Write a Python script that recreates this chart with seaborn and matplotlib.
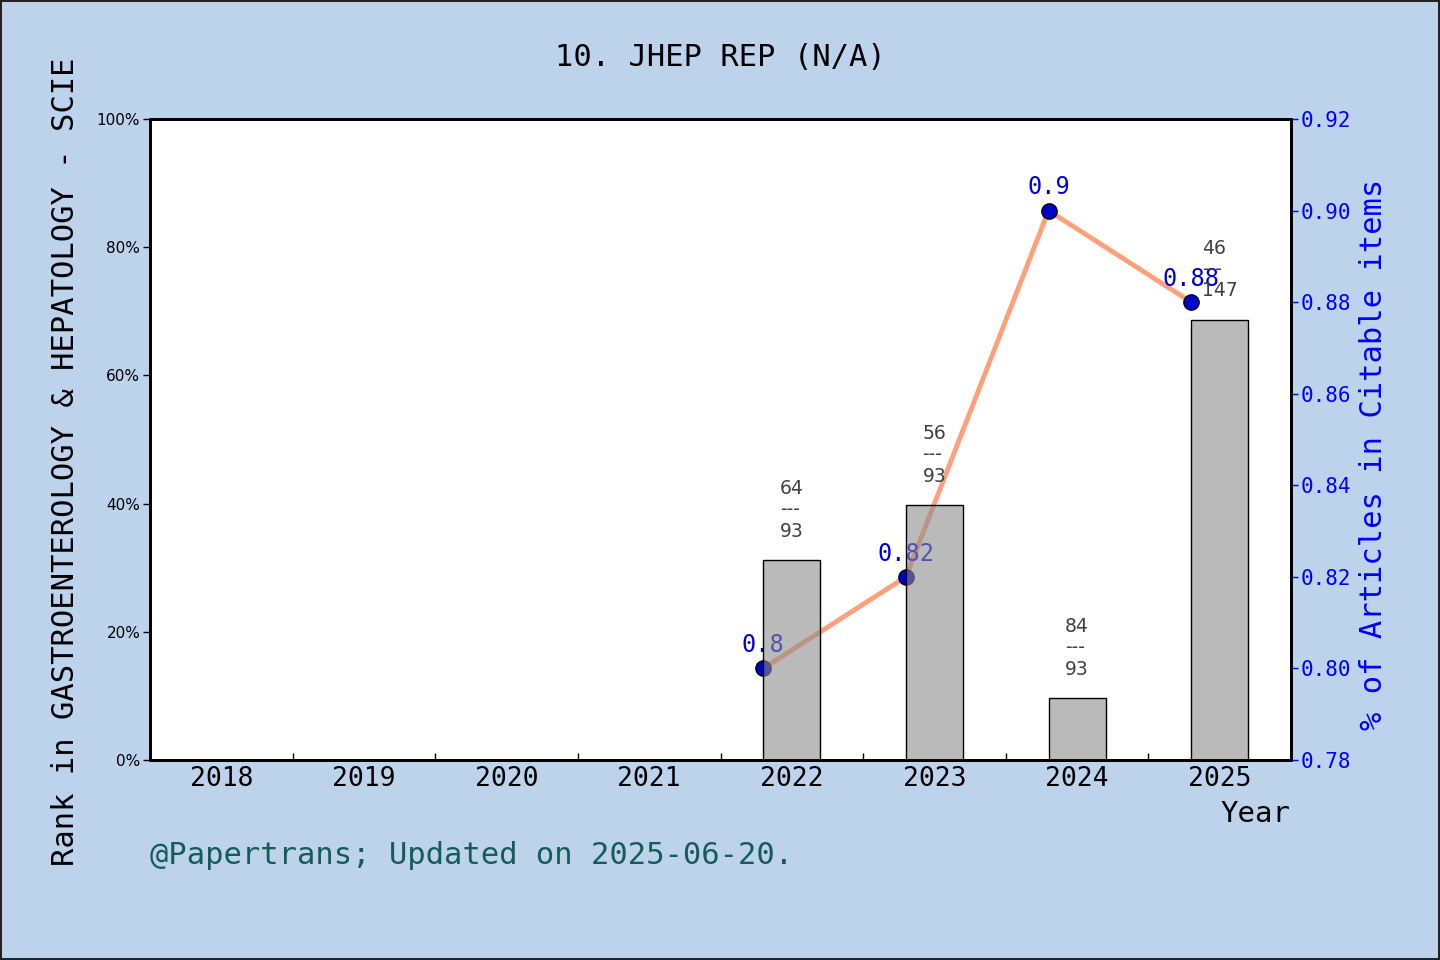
import matplotlib.pyplot as plt
import seaborn as sns
import numpy as np
import pandas as pd

# data
years = ['2018', '2019', '2020', '2021', '2022', '2023', '2024', '2025']
rank = [np.nan, np.nan, np.nan, np.nan, 64, 56, 84, 46]
total = [np.nan, np.nan, np.nan, np.nan, 93, 93, 93, 147]
line_years = ['2022', '2023', '2024', '2025']
citable = [0.80, 0.82, 0.90, 0.88]
citable_labels = ['0.8', '0.82', '0.9', '0.88']

pct = [1 - r / t for r, t in zip(rank, total)]
df = pd.DataFrame({'year': years, 'pct': pct})

bg = '#bdd3ec'
mono = 'DejaVu Sans Mono'

sns.set_style('white')
plt.rcParams['font.family'] = ['DejaVu Sans']
plt.rcParams['text.color'] = 'black'
plt.rcParams['axes.labelcolor'] = 'black'
plt.rcParams['xtick.color'] = 'black'
plt.rcParams['ytick.color'] = 'black'

fig = plt.figure(figsize=(14.4, 9.6), dpi=100, facecolor=bg,
                 edgecolor='#222222', linewidth=1.5)
ax = fig.add_axes([150/1440, 1 - 760/960, (1291-150)/1440, (760-119)/960])
ax2 = ax.twinx()

# bars on the front axes, line behind (white background on the back axes)
ax.set_zorder(ax2.get_zorder() + 1)
ax.patch.set_visible(False)
ax2.patch.set_visible(True)
ax2.patch.set_facecolor('white')

sns.barplot(data=df, x='year', y='pct', order=years, ax=ax, width=0.4,
            color=(0.55, 0.55, 0.55), edgecolor='black', linewidth=1)
for p in ax.patches:
    p.set_alpha(None)
    p.set_facecolor((0.55, 0.55, 0.55, 0.6))
    p.set_edgecolor('black')

for i, (r, t, v) in enumerate(zip(rank, total, pct)):
    if np.isnan(v):
        continue
    ax.annotate(f'{int(r)}\n---\n{int(t)}', xy=(i, v), xytext=(0, 14),
                textcoords='offset points', ha='center', va='bottom',
                multialignment='left', fontsize=13.5, color='#404040',
                linespacing=1.15)

xpos = [years.index(y) - 0.2 for y in line_years]
sns.lineplot(x=xpos, y=citable, ax=ax2, color='#ffa07a', linewidth=3.5,
             marker='o', markersize=11, markerfacecolor='#0000cd',
             markeredgecolor='black', markeredgewidth=1)
for x, y, s in zip(xpos, citable, citable_labels):
    ax2.annotate(s, xy=(x, y), xytext=(0, 8), textcoords='offset points',
                 ha='center', va='bottom', fontsize=17, color='#0000dd',
                 family=mono)

ax.set_xlim(-0.5, len(years) - 0.5)
ax2.set_xlim(-0.5, len(years) - 0.5)
ax.set_ylim(0, 1)
ax2.set_ylim(0.78, 0.92)

ax.set_yticks(np.arange(0, 1.01, 0.2))
ax.set_yticklabels([f'{int(round(v*100))}%' for v in np.arange(0, 1.01, 0.2)],
                   fontsize=11)
ax.tick_params(axis='y', direction='out', length=5, width=1, color='black',
               left=True, pad=2)

ax.set_xticks(range(len(years)))
ax.set_xticklabels(years, fontsize=19, family=mono)
ax.set_xticks(np.arange(0.5, len(years) - 1, 1), minor=True)
ax.tick_params(axis='x', which='major', length=0, pad=4)
ax.tick_params(axis='x', which='minor', direction='in', length=5, width=1,
               bottom=True)
ax.set_ylabel('')
ax.set_xlabel('Year', loc='right', fontsize=21, family=mono, labelpad=6,
              color='black')

rt = np.arange(0.78, 0.921, 0.02)
ax2.set_yticks(rt)
ax2.set_yticklabels([f'{v:.2f}' for v in rt], fontsize=15, family=mono,
                    color='#0000ff')
ax2.tick_params(axis='y', direction='out', length=5, width=1, colors='#0000ff',
                right=True, pad=2)
ax2.set_ylabel('')

for a in (ax, ax2):
    for s in a.spines.values():
        s.set_visible(True)
        s.set_color('black')
        s.set_linewidth(2)

fig.text(0.5, 1 - 57/960, '10. JHEP REP (N/A)', ha='center', va='center',
         fontsize=22, family=mono)
fig.text(66/1440, 1 - 462/960, 'Rank in GASTROENTEROLOGY & HEPATOLOGY - SCIE',
         rotation=90, ha='center', va='center', fontsize=22, family=mono)
fig.text(1373/1440, 1 - 454/960, '% of Articles in Citable items',
         rotation=90, ha='center', va='center', fontsize=22, family=mono,
         color='#0000ff')
fig.text(150/1440, 1 - 855/960, '@Papertrans; Updated on 2025-06-20.',
         ha='left', va='center', fontsize=22, family=mono, color='#145c58')

fig.savefig('out.png', dpi=100, facecolor=bg, edgecolor='#222222')
